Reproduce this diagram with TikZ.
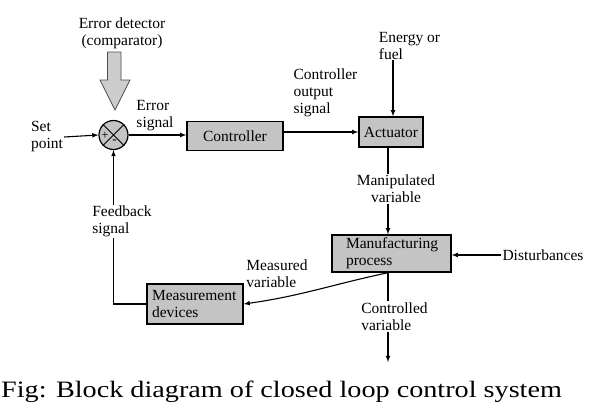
\documentclass[tikz,border=0pt]{standalone}
\usepackage{fontspec}
\usepackage{graphicx}
\setmainfont{Liberation Serif}
\definecolor{boxgray}{RGB}{196,196,196}
\tikzset{
  block/.style={draw, line width=1.4pt, fill=boxgray, inner sep=2pt},
  lbl/.style={inner sep=1pt, align=left},
  sig/.style={line width=1.1pt, -latex}
}
\begin{document}
\begin{tikzpicture}[x=1pt, y=-1pt, font=\fontsize{15.5}{17}\selectfont]
    \useasboundingbox (0,0) rectangle (590,408);

    % The Comparator (Error detector)
    \node[draw, circle, line width=1.2pt, fill=boxgray, minimum size=29pt, inner sep=0pt] (comp) at (113.5,135) {};
    \draw[line width=1pt] (comp.45) -- (comp.225) (comp.135) -- (comp.315);
    \node[font=\fontsize{13}{13}\selectfont, inner sep=0pt] (plus) at (105,136) {+};
    \node[font=\fontsize{13}{13}\selectfont, inner sep=0pt] (minus) at (114.5,142) {-};
    \draw[fill=boxgray!85, draw=black!70, line width=0.8pt] (107.5,52) -- (121,52) -- (121,80) -- (130,80) -- (115,110) -- (100,80) -- (107.5,80) -- cycle;
    \node[lbl, align=center] (detlbl) at (122,33) {Error detector\\(comparator)};

    % The Forward Path
    \node[lbl] (setpt) at (47,137) {Set\\point};
    \node[lbl] (errlbl) at (155,116) {Error\\signal};
    \node[block, minimum width=96pt, minimum height=29pt] (ctrl) at (235,136) {Controller};
    \node[lbl] (outlbl) at (325.5,93) {Controller\\output\\signal};
    \node[block, minimum width=64pt, minimum height=30pt] (act) at (391,132) {Actuator};
    \node[lbl] (fuel) at (409.5,45.5) {Energy or\\fuel};
    \draw[sig] (setpt.east) -- (comp.west);
    \draw[sig] (comp.east) -- (ctrl.west |- comp.east);
    \draw[sig] (ctrl.east |- act.west) -- (act.west);
    \draw[sig] (fuel.south -| 393,0) -- (act.north -| 393,0);

    % The Process
    \node[lbl, align=center] (manlbl) at (396,189) {Manipulated\\variable};
    \node[block, minimum width=119pt, minimum height=37pt, text width=91pt, align=left] (proc) at (391.5,253.5) {Manufacturing\\process};
    \node[lbl] (dist) at (543,255) {Disturbances};
    \node[lbl] (cvlbl) at (394.5,316.5) {Controlled\\variable};
    \coordinate (cvout) at (388,362);
    \draw[line width=1.1pt] (act.south -| 388,0) -- (manlbl.north -| 388,0);
    \draw[sig] (manlbl.south -| 388,0) -- (proc.north -| 388,0);
    \draw[sig] (dist.west) -- (proc.east |- dist.west);
    \draw[line width=1.1pt] (proc.south -| 388,0) -- (cvlbl.north -| 388,0);
    \draw[sig] (cvlbl.south -| 388,0) -- (cvout);

    % The Feedback Path
    \node[block, minimum width=96pt, minimum height=40pt, text width=86pt, align=left] (meas) at (195,304) {Measurement\\devices};
    \node[lbl] (measlbl) at (277,274) {Measured\\variable};
    \node[lbl] (fblbl) at (122,221.5) {Feedback\\signal};
    \draw[sig] (proc.south -| 388,0) to[out=192, in=8] (meas.east);
    \draw[line width=1.1pt] (meas.west) -| (fblbl.south -| comp.south);
    \draw[sig] (fblbl.north -| comp.south) -- (comp.south);

    % Caption
    \node[inner sep=0pt, anchor=base west] (caption) at (1,397) {\scalebox{1.2}[1]{\fontsize{23.5}{26}\selectfont Fig: Block diagram of closed loop control system}};
\end{tikzpicture}
\end{document}
